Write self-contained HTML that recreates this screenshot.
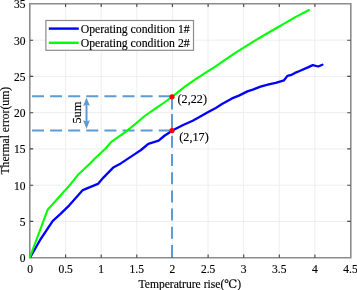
<!DOCTYPE html><html><head><meta charset="utf-8"><style>html,body{margin:0;padding:0;background:#fff;overflow:hidden}svg{display:block}text{stroke:#000;stroke-width:0.15px}</style></head><body><svg width="357" height="290" viewBox="0 0 357 290">
<defs><filter id="b" filterUnits="userSpaceOnUse" x="0" y="0" width="357" height="290"><feGaussianBlur stdDeviation="0.3"/></filter></defs>
<rect width="357" height="290" fill="#fff"/>
<g filter="url(#b)">
<path d="M65.61 3.9V257.7M101.22 3.9V257.7M136.83 3.9V257.7M172.44 3.9V257.7M208.06 3.9V257.7M243.67 3.9V257.7M279.28 3.9V257.7M314.89 3.9V257.7M30.0 221.44H350.5M30.0 185.19H350.5M30.0 148.93H350.5M30.0 112.67H350.5M30.0 76.41H350.5M30.0 40.16H350.5" stroke="#eeeeee" stroke-width="1" fill="none"/>
<path d="M29.8 3.8H350.8V257.7H29.8Z" stroke="#8c8c8c" stroke-width="1.6" fill="none"/>
<path d="M65.6 257.7V254.5M65.6 3.9V7.1M101.2 257.7V254.5M101.2 3.9V7.1M136.8 257.7V254.5M136.8 3.9V7.1M172.4 257.7V254.5M172.4 3.9V7.1M208.1 257.7V254.5M208.1 3.9V7.1M243.7 257.7V254.5M243.7 3.9V7.1M279.3 257.7V254.5M279.3 3.9V7.1M314.9 257.7V254.5M314.9 3.9V7.1M30.0 221.4H33.2M350.5 221.4H347.3M30.0 185.2H33.2M350.5 185.2H347.3M30.0 148.9H33.2M350.5 148.9H347.3M30.0 112.7H33.2M350.5 112.7H347.3M30.0 76.4H33.2M350.5 76.4H347.3M30.0 40.2H33.2M350.5 40.2H347.3" stroke="#444" stroke-width="1.1" fill="none"/>
<path d="M32.0 96.3H44.0M50.1 96.3H62.1M68.2 96.3H80.2M86.3 96.3H98.3M104.4 96.3H116.4M122.5 96.3H134.5M140.6 96.3H152.6M158.7 96.3H170.7M32.0 130.6H44.0M50.1 130.6H62.1M68.2 130.6H80.2M86.3 130.6H98.3M104.4 130.6H116.4M122.5 130.6H134.5M140.6 130.6H152.6M158.7 130.6H170.7M172 257.0V245.0M172 238.8V226.8M172 220.6V208.6M172 202.4V190.4M172 184.2V172.2M172 166.0V154.0M172 147.8V135.8M172 96.8V109.5M172 114.0V130.6" stroke="#5b9bd5" stroke-width="2" fill="none"/>
<polyline points="30.4,256.8 40.4,239.5 52.8,220.9 60.0,214.3 69.3,205.3 82.8,190.1 97.9,183.9 103.4,177.6 111.7,169.1 113.2,167.6 120.8,163.4 134.8,154.1 141.0,150.0 148.3,143.8 158.6,140.7 164.8,135.5 173.8,129.8 182.6,125.2 192.7,120.8 200.3,116.4 207.8,112.2 215.8,107.9 222.0,104.1 232.0,98.4 238.9,95.6 247.4,91.4 252.8,89.6 260.5,86.6 268.8,84.4 275.7,82.8 284.0,80.3 287.4,75.9 291.6,74.8 295.0,72.9 299.0,71.2 307.9,67.4 312.8,65.1 318.3,66.5 322.4,64.8" stroke="#0000ff" stroke-width="2.3" fill="none" stroke-linejoin="round" stroke-linecap="round"/>
<polyline points="30.0,257.0 47.8,209.4 50.1,207.0 70.6,184.2 78.6,174.2 90.0,163.6 95.7,157.8 105.0,149.0 112.0,141.3 125.7,131.9 135.0,124.2 145.3,115.5 155.7,108.3 165.0,102.0 172.0,96.9 185.3,86.4 195.0,79.6 205.3,72.8 215.7,66.3 225.0,59.9 235.3,52.9 245.7,46.4 255.0,40.7 265.3,34.5 275.7,28.5 285.0,23.2 295.3,17.1 309.0,10.0" stroke="#00ff00" stroke-width="2.1" fill="none" stroke-linejoin="round" stroke-linecap="round"/>
<circle cx="172" cy="96.8" r="2.6" fill="#ff0000"/>
<circle cx="172" cy="130.6" r="2.6" fill="#ff0000"/>
<path d="M86.5 104V122" stroke="#5b9bd5" stroke-width="2"/>
<path d="M86.5 97.6L83.1 106L86.5 104.6L89.9 106Z M86.5 129.1L83.1 120.2L86.5 121.6L89.9 120.2Z" fill="#5b9bd5"/>
<g font-family="Liberation Serif, serif" font-size="11.5" fill="#000"><text x="30.0" y="273.2" text-anchor="middle">0</text><text x="65.6" y="273.2" text-anchor="middle">0.5</text><text x="101.2" y="273.2" text-anchor="middle">1</text><text x="136.8" y="273.2" text-anchor="middle">1.5</text><text x="172.4" y="273.2" text-anchor="middle">2</text><text x="208.1" y="273.2" text-anchor="middle">2.5</text><text x="243.7" y="273.2" text-anchor="middle">3</text><text x="279.3" y="273.2" text-anchor="middle">3.5</text><text x="314.9" y="273.2" text-anchor="middle">4</text><text x="350.5" y="273.2" text-anchor="middle">4.5</text><text x="25.5" y="262.0" text-anchor="end">0</text><text x="25.5" y="225.7" text-anchor="end">5</text><text x="25.5" y="189.5" text-anchor="end">10</text><text x="25.5" y="153.2" text-anchor="end">15</text><text x="25.5" y="117.0" text-anchor="end">20</text><text x="25.5" y="80.7" text-anchor="end">25</text><text x="25.5" y="44.5" text-anchor="end">30</text><text x="25.5" y="8.2" text-anchor="end">35</text></g>
<text x="189.8" y="287.8" text-anchor="middle" font-family="Liberation Serif, DejaVu Serif, serif" font-size="11.6" fill="#000">Temperatrure rise(℃)</text>
<text transform="translate(8.6 130.7) rotate(-90)" text-anchor="middle" font-family="Liberation Serif, serif" font-size="11.65" fill="#000">Thermal error(um)</text>
<rect x="45.9" y="20.5" width="147.6" height="29.8" fill="#fff" stroke="#8c8c8c" stroke-width="1.2"/>
<path d="M48.8 28.6H78.8" stroke="#0000ff" stroke-width="2.4"/>
<path d="M48.8 42.8H78.8" stroke="#00ff00" stroke-width="2.4"/>
<g font-family="Liberation Serif, serif" font-size="11.75" fill="#000"><text x="80.7" y="33.1">Operating condition 1#</text><text x="80.7" y="47.2">Operating condition 2#</text></g>
<g font-family="Liberation Serif, serif" font-size="12.2" fill="#000"><text x="177.5" y="102.7">(2,22)</text><text x="179.3" y="140.6">(2,17)</text></g>
<text transform="translate(80.9 112.6) rotate(-90)" text-anchor="middle" font-family="Liberation Serif, serif" font-size="12.4" fill="#000">5um</text>
</g></svg></body></html>
